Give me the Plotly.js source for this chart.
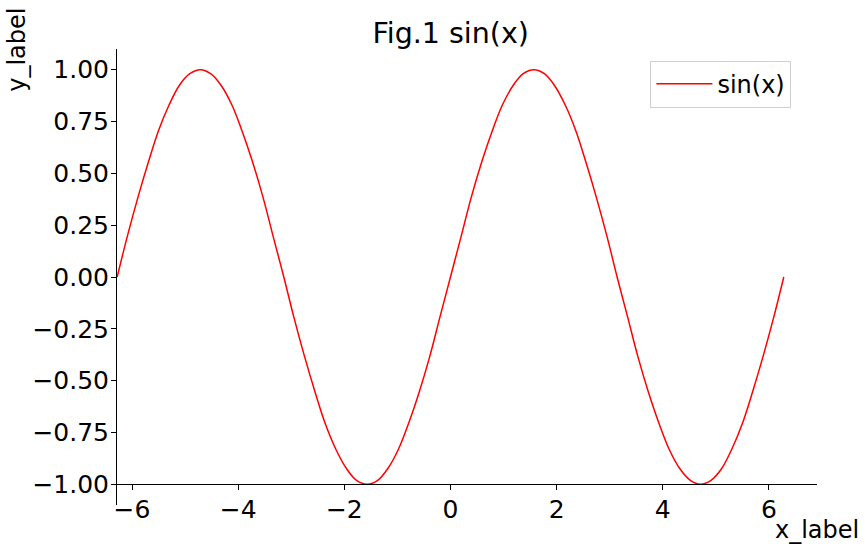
<!DOCTYPE html>
<html>
<head>
<meta charset="utf-8">
<script src="https://cdn.plot.ly/plotly-3.0.1.min.js"></script>
<style>
  html, body { margin: 0; padding: 0; background: #fff; }
  #plot { width: 865px; height: 551px; }
</style>
</head>
<body>
<div id="plot"></div>
<script>
// values (x in steps of about 0.2)
const xValues = [
  -6.28, -6.09, -5.89, -5.69, -5.50, -5.30, -5.11, -4.91, -4.71, -4.52, -4.32,
  -4.12, -3.93, -3.73, -3.53, -3.34, -3.14, -2.95, -2.75, -2.55, -2.36, -2.16,
  -1.96, -1.77, -1.57, -1.37, -1.18, -0.98, -0.79, -0.59, -0.39, -0.20,
  0.00,
  0.20, 0.39, 0.59, 0.79, 0.98, 1.18, 1.37, 1.57, 1.77, 1.96, 2.16,
  2.36, 2.55, 2.75, 2.95, 3.14, 3.34, 3.53, 3.73, 3.93, 4.12, 4.32,
  4.52, 4.71, 4.91, 5.11, 5.30, 5.50, 5.69, 5.89, 6.09, 6.28
];
const yValues = [
  0.00, 0.195, 0.383, 0.556, 0.707, 0.831, 0.924, 0.981, 1.00, 0.981, 0.924,
  0.831, 0.707, 0.556, 0.383, 0.195, 0.00, -0.195, -0.383, -0.556, -0.707, -0.831,
  -0.924, -0.981, -1.00, -0.981, -0.924, -0.831, -0.707, -0.556, -0.383, -0.195,
  0.00,
  0.195, 0.383, 0.556, 0.707, 0.831, 0.924, 0.981, 1.00, 0.981, 0.924, 0.831,
  0.707, 0.556, 0.383, 0.195, 0.00, -0.195, -0.383, -0.556, -0.707, -0.831, -0.924,
  -0.981, -1.00, -0.981, -0.924, -0.831, -0.707, -0.556, -0.383, -0.195, 0.00
];
const seriesName = 'sin(x)';

const font = 'DejaVu Sans, sans-serif';
const tickSize = 25;
const labelSize = 24;

const sinTrace = {
    x: xValues,
    y: yValues,
    name: seriesName,
    type: 'scatter',
    mode: 'lines',
    line: { color: '#ff0000', width: 1.5, shape: 'spline', smoothing: 1 },
};

const layout = {
    width: 865,
    height: 551,
    paper_bgcolor: '#ffffff',
    plot_bgcolor: '#ffffff',
    font: { family: font, size: labelSize, color: '#000000' },
    margin: { t: 49, b: 46, l: 117, r: 48 },
    title: {
        text: 'Fig.1 sin(x)',
        font: { family: font, size: 28.5, color: '#000000' },
        x: 0.521, xref: 'container', xanchor: 'center',
        y: 0.94, yref: 'container', yanchor: 'middle',
    },
    xaxis: {
        range: [-6.283, 6.906],
        dtick: 2,
        tick0: 0,
        anchor: 'free',
        position: 0.04545,
        showline: true,
        linecolor: '#000000',
        linewidth: 1,
        ticks: 'outside',
        ticklen: 5,
        tickwidth: 1,
        tickcolor: '#000000',
        ticklabelstandoff: -2,
        showgrid: false,
        zeroline: false,
        tickfont: { family: font, size: tickSize, color: '#000000' },
    },
    yaxis: {
        range: [-1.1, 1.1],
        dtick: 0.25,
        tick0: 0,
        tickformat: '.2f',
        showline: true,
        linecolor: '#000000',
        linewidth: 1,
        ticks: 'outside',
        ticklen: 5,
        tickwidth: 1,
        tickcolor: '#000000',
        ticklabelstandoff: -3,
        showgrid: false,
        zeroline: false,
        tickfont: { family: font, size: tickSize, color: '#000000' },
    },
    showlegend: true,
    legend: {
        x: 0.762, xanchor: 'left',
        y: 0.9745, yanchor: 'top',
        itemwidth: 56,
        bgcolor: '#ffffff',
        bordercolor: '#d0d0d0',
        borderwidth: 1,
        font: { family: font, size: labelSize, color: '#000000' },
    },
    annotations: [
        {
            text: 'x_label', xref: 'paper', yref: 'paper',
            x: 1.0, y: -0.0548, xanchor: 'center', yanchor: 'middle',
            showarrow: false, font: { family: font, size: labelSize, color: '#000000' },
        },
        {
            text: 'y_label', xref: 'paper', yref: 'paper',
            x: -0.143, y: 0.998, xanchor: 'center', yanchor: 'middle',
            textangle: -90,
            showarrow: false, font: { family: font, size: labelSize, color: '#000000' },
        },
    ],
};

Plotly.newPlot('plot', [sinTrace], layout, { displayModeBar: false, responsive: false });
</script>
</body>
</html>
